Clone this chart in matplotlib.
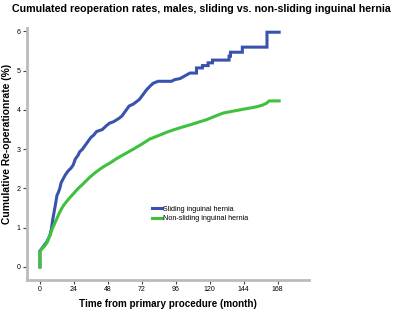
import numpy as np
import matplotlib
matplotlib.use("Agg")
import matplotlib.pyplot as plt

plt.rcParams['font.family'] = ['Liberation Sans', 'DejaVu Sans']

# Cumulative reoperation rates; repeated months are step jumps
sliding_month = [0, 0, 3, 5, 7, 8, 9, 10, 11, 12, 13, 14, 15, 16.5, 18, 20, 22,
                 23.5, 25, 27, 28, 30, 32, 34, 36, 38, 40, 44, 47, 49, 52, 56, 58,
                 60, 63, 66, 70, 72, 75, 77.6, 80, 83.5, 93, 95, 99, 102, 106,
                 110.6, 110.6, 114.8, 114.8, 118.8, 118.8, 121.9, 121.9,
                 133.6, 133.6, 134.6, 134.6, 143, 143, 160.4, 160.4, 169]
sliding_rate = [0, 0.41, 0.55, 0.65, 0.8, 0.95, 1.2, 1.4, 1.6, 1.82, 1.9, 2.0, 2.15,
                2.25, 2.35, 2.45, 2.52, 2.6, 2.75, 2.85, 2.93, 3.0, 3.1, 3.2, 3.3,
                3.36, 3.45, 3.5, 3.6, 3.66, 3.7, 3.79, 3.85, 3.95, 4.1, 4.15, 4.26,
                4.35, 4.5, 4.6, 4.68, 4.73, 4.73, 4.77, 4.8, 4.86, 4.94,
                4.94, 5.07, 5.07, 5.13, 5.13, 5.2, 5.2, 5.27,
                5.27, 5.37, 5.37, 5.47, 5.47, 5.6, 5.6, 5.98, 5.98]

nonsliding_month = [0, 0, 3, 5, 7, 9, 11.8, 14, 16.5, 20, 23.5, 27, 30, 35.3, 40,
                    44.7, 50, 54.1, 60, 65.9, 72, 77.6, 84, 89.4, 95, 101.2, 106,
                    113, 117.6, 123, 129.4, 135, 141, 147, 152.9, 157, 160, 162, 169]
nonsliding_rate = [0, 0.41, 0.52, 0.62, 0.8, 1.0, 1.22, 1.4, 1.56, 1.72, 1.86, 2.0,
                   2.1, 2.29, 2.43, 2.55, 2.66, 2.76, 2.88, 3.0, 3.13, 3.26, 3.35,
                   3.43, 3.5, 3.57, 3.62, 3.7, 3.75, 3.83, 3.92, 3.96, 4.0, 4.04,
                   4.08, 4.12, 4.17, 4.23, 4.23]

x_ticks = [0, 24, 48, 72, 96, 120, 144, 168]
y_ticks = [0, 1, 2, 3, 4, 5, 6]

fig = plt.figure(figsize=(3.96, 3.10), dpi=100)
ax = fig.add_axes([0.068, 0.097, 0.712, 0.813])

ax.plot(sliding_month, sliding_rate, color='#3953ad', lw=2.2,
        solid_joinstyle='miter', label='Sliding inguinal hernia')
ax.plot(nonsliding_month, nonsliding_rate, color='#3ec23e', lw=2.2,
        solid_joinstyle='miter', label='Non-sliding inguinal hernia')

ax.set_xlim(-9.2, 190)
ax.set_ylim(-0.33, 6.09)
ax.set_xticks(x_ticks)
ax.set_yticks(y_ticks)
ax.tick_params(labelsize=5, length=3, width=0.8, color='#444444', pad=1.5)

for s in ['top', 'right']:
    ax.spines[s].set_visible(False)
for s in ['left', 'bottom']:
    ax.spines[s].set_color('#bbbbbb')
    ax.spines[s].set_linewidth(2)

fig.text(0.508, 0.972,
         'Cumulated reoperation rates, males, sliding vs. non-sliding inguinal hernia',
         fontsize=7.65, fontweight='bold', ha='center', va='center')
ax.set_xlabel('Time from primary procedure (month)', fontsize=7.1, fontweight='bold',
              labelpad=4)
ax.set_ylabel('Cumulative Re-operationrate (%)', fontsize=7.4, fontweight='bold',
              labelpad=3)
ax.yaxis.set_label_coords(-0.052, 0.54)

ax.legend(loc='center left', bbox_to_anchor=(0.435, 0.262), fontsize=5.2,
          frameon=False, handlelength=1.3, handletextpad=0.2, labelspacing=0.3,
          borderaxespad=0)

fig.savefig('out.png', dpi=100)
